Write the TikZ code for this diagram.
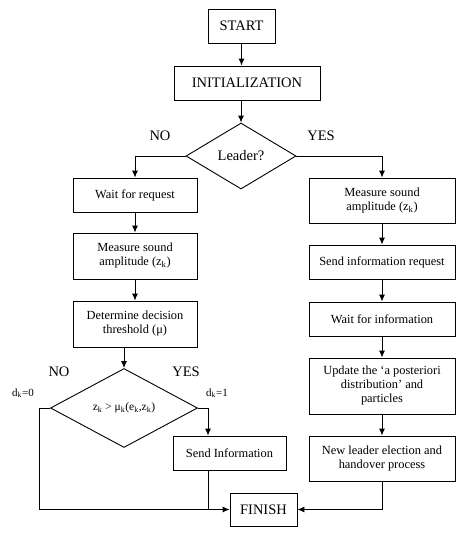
\documentclass[tikz,border=0pt]{standalone}
\usepackage{fontspec}
\setmainfont{Liberation Serif}
\usetikzlibrary{shapes.geometric, arrows.meta}
\newcommand{\sk}{\textsubscript{k}}

\begin{document}
\begin{tikzpicture}[>={Latex[length=7pt,width=6pt]}, x=1pt, y=-1pt, line width=0.9pt,
    termbox/.style={draw, font=\fontsize{14.5}{16}\selectfont, minimum height=34pt, inner sep=2pt},
    procbox/.style={draw, align=center, font=\fontsize{12.4}{14}\selectfont, inner sep=2pt},
    decision/.style={draw, diamond, inner sep=0pt, aspect=1.7},
    lbl/.style={font=\fontsize{14.5}{16}\selectfont},
    small/.style={font=\fontsize{11}{13}\selectfont}]
            \useasboundingbox (0,0) rectangle (474,546);

            \node[termbox, minimum width=67pt] (start) at (241.5,26) {START};
            \node[termbox, minimum width=146pt] (init) at (247,83) {INITIALIZATION};
            \node[decision, minimum width=110pt, minimum height=66pt, font=\fontsize{14.5}{16}\selectfont] (leader) at (241,156) {Leader?};
            \node[lbl] (noleader) at (160,136) {NO};
            \node[lbl] (yesleader) at (321,136) {YES};

            % member branch
            \node[procbox, minimum width=124pt, minimum height=34pt] (waitreq) at (135,195) {Wait for request};
            \node[procbox, minimum width=124pt, minimum height=46pt] (measl) at (135,256) {Measure sound\\amplitude (z\sk)};
            \node[procbox, minimum width=124pt, minimum height=46pt] (thresh) at (135,324) {Determine decision\\threshold (μ)};
            \node[decision, minimum width=147pt, minimum height=79pt, font=\fontsize{11.5}{13}\selectfont] (compare) at (124,408) {z\sk\ > μ\sk(e\sk,z\sk)};
            \node[lbl] (nocomp) at (59,372) {NO};
            \node[lbl] (yescomp) at (186,372) {YES};
            \node[small] (dzero) at (23,393) {d\sk=0};
            \node[small] (done) at (217,393) {d\sk=1};
            \node[procbox, minimum width=113pt, minimum height=34pt] (sendinfo) at (229.5,453) {Send Information};

            % leader branch
            \node[procbox, minimum width=146pt, minimum height=45pt] (measr) at (382,200.5) {Measure sound\\amplitude (z\sk)};
            \node[procbox, minimum width=146pt, minimum height=34pt] (sendreq) at (382,262) {Send information request};
            \node[procbox, minimum width=146pt, minimum height=34pt] (waitinfo) at (382,319) {Wait for information};
            \node[procbox, minimum width=146pt, minimum height=56pt] (update) at (382,386) {Update the ‘a posteriori\\distribution’ and\\particles};
            \node[procbox, minimum width=146pt, minimum height=45pt] (newleader) at (382,458.5) {New leader election and\\handover process};

            \node[termbox, minimum width=67pt, minimum height=33pt] (finish) at (263.5,509.5) {FINISH};

            \draw[->] (start) -- (start |- init.north);
            \draw[->] (init.south -| leader.north) -- (leader.north);
            \draw[->] (leader.west) -| (waitreq.north);
            \draw[->] (leader.east) -| (measr.north);
            \foreach \a/\b in {waitreq/measl, measl/thresh, measr/sendreq, sendreq/waitinfo, waitinfo/update, update/newleader}
                \draw[->] (\a) -- (\b);
            \draw[->] (thresh.south -| compare.north) -- (compare.north);

            \coordinate (noturn) at (39,408);
            \coordinate (yesturn) at (208,408);
            \draw[->] (compare.west) -- (noturn) |- (finish.west);
            \draw[->] (compare.east) -- (yesturn) -- (yesturn |- sendinfo.north);
            \draw (yesturn |- sendinfo.south) -- (yesturn |- finish.west);
            \draw[->] (newleader.south) |- (finish.east);
        \end{tikzpicture}
\end{document}
